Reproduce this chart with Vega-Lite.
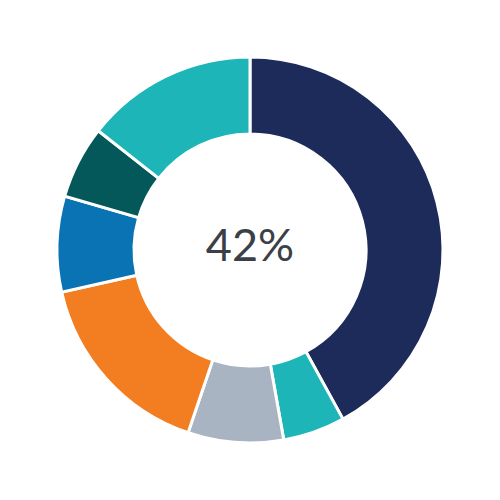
{
  "$schema": "https://vega.github.io/schema/vega-lite/v6.json",
  "width": 500,
  "height": 500,
  "padding": 0,
  "autosize": {"type": "fit", "contains": "padding"},
  "background": "white",
  "data": {
    "values": [
      {"segment": "A", "order": 1, "share": 42},
      {"segment": "B", "order": 2, "share": 5.2},
      {"segment": "C", "order": 3, "share": 8},
      {"segment": "D", "order": 4, "share": 16.3},
      {"segment": "E", "order": 5, "share": 8},
      {"segment": "F", "order": 6, "share": 6.1},
      {"segment": "G", "order": 7, "share": 14.4}
    ]
  },
  "layer": [
    {
      "mark": {
        "type": "arc",
        "radius": 193,
        "radius2": 116,
        "stroke": "white",
        "strokeWidth": 3
      },
      "encoding": {
        "theta": {"field": "share", "type": "quantitative", "stack": true},
        "order": {"field": "order", "type": "quantitative"},
        "color": {
          "field": "segment",
          "type": "nominal",
          "legend": null,
          "scale": {
            "domain": ["A", "B", "C", "D", "E", "F", "G"],
            "range": ["#1d2b5b", "#1db5b8", "#a8b4c2", "#f37e21", "#0a73b4", "#04585a", "#1db5b8"]
          }
        }
      }
    },
    {
      "data": {"values": [{"label": "42%"}]},
      "mark": {
        "type": "text",
        "font": "Lato",
        "fontSize": 45,
        "color": "#3b4046",
        "baseline": "middle",
        "align": "center",
        "dy": -3
      },
      "encoding": {
        "text": {"field": "label", "type": "nominal"}
      }
    }
  ],
  "config": {
    "view": {"stroke": null}
  }
}
